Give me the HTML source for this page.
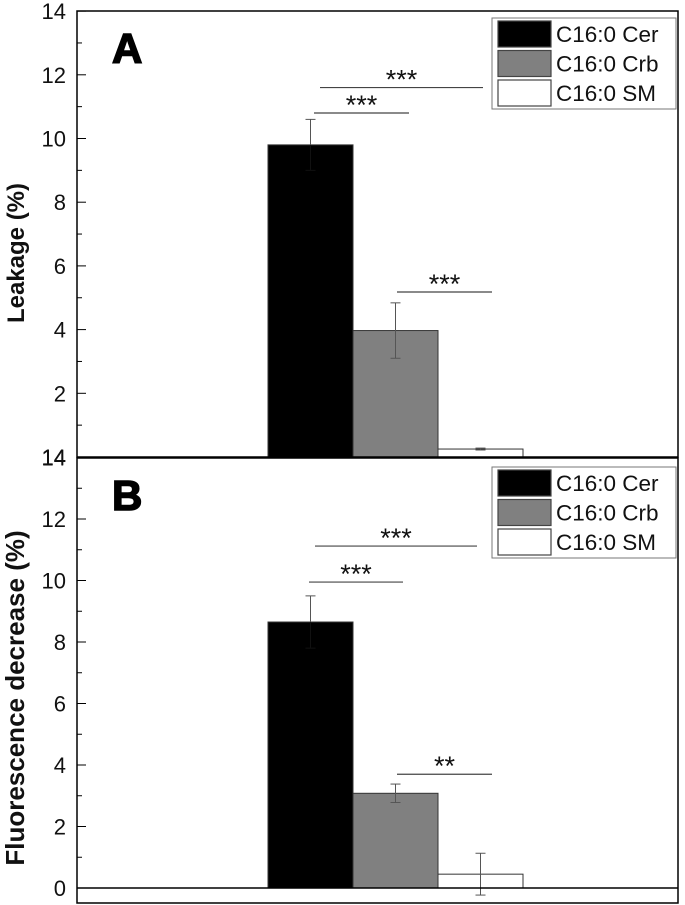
<!DOCTYPE html>
<html><head><meta charset="utf-8"><style>
html,body{margin:0;padding:0;background:#fff;}
svg{display:block;font-family:"Liberation Sans",Arial,sans-serif;}
</style></head><body>
<svg id="chart" width="685" height="905" viewBox="0 0 685 905"></svg>
<script>
const categories = ["C16:0 Cer","C16:0 Crb","C16:0 SM"];
const fills = ["#000","#808080","#fff"];
const leakageValues = [9.8, 3.97, 0.25];
const leakageErrors = [0.8, 0.87, 0.03];
const fluorValues = [8.65, 3.08, 0.45];
const fluorErrors = [0.85, 0.3, 0.68];
const tickLabelsA = ["14","2","4","6","8","10","12","14"];
const tickValues = [0,2,4,6,8,10,12,14];
const tickLabelsB = ["0","2","4","6","8","10","12","14"];
const sigA = [{y:11.6,t:"***",x1:320,x2:483},{y:10.8,t:"***",x1:314,x2:409},{y:5.18,t:"***",x1:397,x2:492}];
const sigB = [{y:11.12,t:"***",x1:315,x2:477},{y:9.95,t:"***",x1:309,x2:403},{y:3.7,t:"**",x1:397,x2:492}];

const svg=document.getElementById('chart');
const NS="http://www.w3.org/2000/svg";
function mk(tag,attrs,parent){const e=document.createElementNS(NS,tag);for(const k in attrs)e.setAttribute(k,attrs[k]);(parent||svg).appendChild(e);return e;}
const barX0=268, barW=85;
function xBar(i){return barX0+i*barW;}

function panel(o){
  const g=mk('g',{});
  
  
  const y=v=>o.y0-(v)*o.k;
  o.values.forEach((v,i)=>{
    const r=mk('rect',{x:xBar(i),y:Math.min(y(v),y(0)),width:barW,height:Math.abs(y(v)-y(0)),fill:fills[i],stroke:'#333','stroke-width':1},g);
    
    
    const cx=xBar(i)+barW/2, e=o.errors[i];
    const eb=mk('g',{stroke:i==0?'#111':'#555','stroke-width':1},g);
    
    
    mk('line',{x1:cx,x2:cx,y1:y(v-e),y2:y(v+e)},eb);
    mk('line',{x1:cx-5,x2:cx+5,y1:y(v+e),y2:y(v+e),stroke:'#555'},eb);
    mk('line',{x1:cx-5,x2:cx+5,y1:y(v-e),y2:y(v-e)},eb);
    if(i==0) mk('line',{x1:cx,x2:cx,y1:y(v),y2:y(v+e),stroke:'#555'},eb);
  });
  if(o.zeroLine){mk('line',{x1:77,x2:678,y1:y(0),y2:y(0),stroke:'#000','stroke-width':1.5},g);}
  mk('rect',{x:77,y:o.top,width:601,height:o.bottom-o.top,fill:'none',stroke:'#000','stroke-width':1.5},g);
  for(let v=0;v<=14;v++){
    const yy=y(v); if(yy>o.bottom+0.5) continue;
    mk('line',{x1:77,x2:77+(v%2==0?9:5),y1:yy,y2:yy,stroke:'#000','stroke-width':1},g);
  }
  tickValues.forEach((v,i)=>{
    const t=mk('text',{x:66,y:y(v)+8,'text-anchor':'end','font-size':22,fill:'#111'},g);
    t.textContent=o.labels[i];
    
    
  });
  const tt=mk('text',{x:0,y:0,transform:`translate(24,${o.titleY}) rotate(-90)`,'text-anchor':'middle','font-size':o.titleSize,'font-weight':'bold',fill:'#111'},g);
  tt.textContent=o.title;
  
  
  const pl=mk('text',{x:112,y:o.top+52,'font-size':42,'font-weight':'900',fill:'#000',stroke:'#000','stroke-width':1.5},g);
  pl.textContent=o.letter;
  
  
  o.sig.forEach(s=>{
    const sg=mk('g',{},g);
    
    
    mk('line',{x1:s.x1,x2:s.x2,y1:y(s.y),y2:y(s.y),stroke:'#444','stroke-width':1.2},sg);
    const st=mk('text',{x:(s.x1+s.x2)/2,y:y(s.y)+1,'text-anchor':'middle','font-size':27,fill:'#111'},sg);
    st.textContent=s.t;
  });
  const L=o.legend;
  const lg=mk('g',{},g);
  
  
  mk('rect',{x:492,y:L,width:184,height:91,fill:'#fff',stroke:'#777','stroke-width':1},lg);
  categories.forEach((c,i)=>{
    const e=mk('g',{},lg);
    
    
    mk('rect',{x:498,y:L+3+i*29.5,width:53,height:26,fill:fills[i],stroke:'#444','stroke-width':1.2},e);
    const t=mk('text',{x:556,y:L+24+i*29.5,'font-size':22.5,fill:'#111'},e);
    t.textContent=c;
  });
}
panel({name:'panel-a',key:'a',top:11,bottom:457,y0:457,k:31.85,values:leakageValues,errors:leakageErrors,labels:tickLabelsA,title:'Leakage (%)',titleY:253,titleSize:24,letter:'A',sig:sigA,legend:18,zeroLine:false});
panel({name:'panel-b',key:'b',top:458,bottom:903,y0:888,k:30.75,values:fluorValues,errors:fluorErrors,labels:tickLabelsB,title:'Fluorescence decrease (%)',titleY:698,titleSize:26,letter:'B',sig:sigB,legend:467,zeroLine:true});
</script>
</body></html>
